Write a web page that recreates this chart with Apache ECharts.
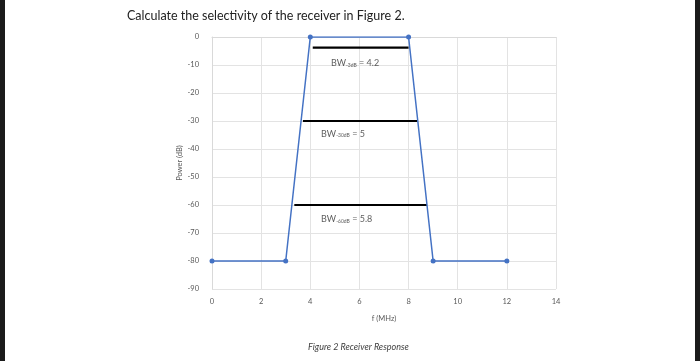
<!DOCTYPE html>
<html><head><meta charset="utf-8">
<script src="https://cdn.jsdelivr.net/npm/echarts@6/dist/echarts.min.js"></script>
<style>
html,body{margin:0;padding:0;background:#fff;}
#wrap{position:relative;width:700px;height:361px;}
#chart{position:absolute;left:0;top:0;width:700px;height:361px;}
.strip{position:absolute;top:0;width:5px;height:361px;background:#1b1b1b;}
</style></head>
<body><div id="wrap"><div id="chart"></div><div class="strip" style="left:0"></div><div class="strip" style="left:695px"></div></div>
<script>
// Receiver response (f in MHz, power in dB)
const freqMHz = [0, 3, 4, 8, 9, 12];
const powerDb = [-80, -80, 0, 0, -80, -80];
// Bandwidth marker lines [x, y] end points
const bw3Line = [[4.1, -3.8], [8.0, -3.8]];
const bw30Line = [[3.7, -30], [8.35, -30]];
const bw60Line = [[3.35, -60], [8.75, -60]];
// Annotation labels: [x, y, subscript, value]
const bwLabels = [
  [4.84, -9.3, '-3dB', '4.2'],
  [4.44, -34.6, '-30dB', '5'],
  [4.44, -65, '-60dB', '5.8']
];
const titleText = 'Calculate the selectivity of the receiver in Figure 2.';
const captionText = 'Figure 2 Receiver Response';

const chart = echarts.init(document.getElementById('chart'), null, {renderer: 'canvas'});
const font = 'Lato, "Open Sans", sans-serif';
const blackLine = (d) => ({type: 'line', data: d, symbol: 'none', lineStyle: {color: '#000', width: 2.2}, z: 3, silent: true});
chart.setOption({
  animation: false,
  backgroundColor: '#fff',
  title: [
    {text: titleText, left: 122, top: 4, textStyle: {fontFamily: font, fontSize: 12.5, fontWeight: 'normal', color: '#222'}},
    {text: captionText, left: 303, top: 338, textStyle: {fontFamily: font, fontSize: 9, fontStyle: 'italic', fontWeight: 'normal', color: '#404040'}}
  ],
  grid: {left: 212, right: 144, top: 37, bottom: 72},
  xAxis: {
    type: 'value', min: 0, max: 14, interval: 2,
    name: 'f (MHz)', nameLocation: 'middle', nameGap: 18,
    nameTextStyle: {fontFamily: font, fontSize: 7.5, color: '#595959', padding: [8, 0, 0, 0]},
    axisLine: {show: true, lineStyle: {color: '#d9d9d9'}},
    axisTick: {show: false},
    axisLabel: {fontFamily: font, fontSize: 7.5, color: '#595959', margin: 9},
    splitLine: {show: true, lineStyle: {color: '#e3e3e3', width: 1}}
  },
  yAxis: {
    type: 'value', min: -90, max: 0, interval: 10,
    name: 'Power (dB)', nameLocation: 'middle', nameGap: 24, nameRotate: 90,
    nameTextStyle: {fontFamily: font, fontSize: 7.5, color: '#595959'},
    axisLine: {show: true, lineStyle: {color: '#d9d9d9'}},
    axisTick: {show: false},
    axisLabel: {fontFamily: font, fontSize: 7.5, color: '#595959', margin: 13},
    splitLine: {show: true, lineStyle: {color: '#e3e3e3', width: 1}}
  },
  series: [
    {
      type: 'line', data: freqMHz.map((f, i) => [f, powerDb[i]]),
      symbol: 'circle', symbolSize: 5,
      lineStyle: {color: '#4472c4', width: 1.5},
      itemStyle: {color: '#4472c4'}, z: 4
    },
    blackLine(bw3Line), blackLine(bw30Line), blackLine(bw60Line),
    {
      type: 'scatter', symbolSize: 0, z: 5,
      data: bwLabels.map(l => ({value: [l[0], l[1]], sub: l[2], val: l[3]})),
      label: {
        show: true, position: 'right', distance: 0,
        formatter: (p) => '{m|BW}{s|' + p.data.sub + '}{m| = ' + p.data.val + '}',
        rich: {
          m: {fontFamily: font, fontSize: 9, color: '#333'},
          s: {fontFamily: font, fontSize: 5, color: '#333', verticalAlign: 'bottom', padding: [3, 0, 0, 0]}
        }
      }
    }
  ]
});
</script></body></html>
